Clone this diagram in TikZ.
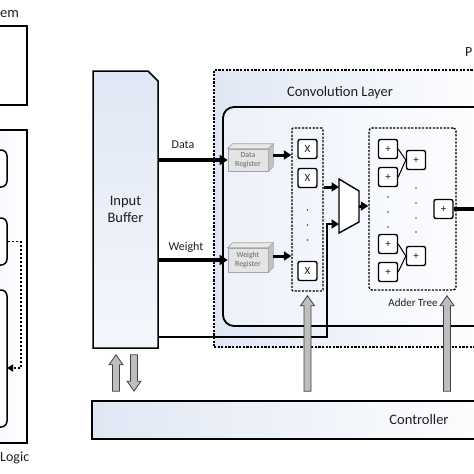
\documentclass[tikz,border=0pt]{standalone}
\usepackage{fontspec}
\setmainfont{Carlito}
\usetikzlibrary{shapes.misc,arrows.meta,calc}
\definecolor{lb}{RGB}{224,231,244}
\definecolor{lbb}{RGB}{236,241,250}
\definecolor{regfill}{RGB}{228,228,228}
\definecolor{regline}{RGB}{165,165,165}
\definecolor{garr}{RGB}{190,190,190}
\definecolor{txt}{RGB}{30,30,30}
\newcommand{\grayarrow}[3]{%
  \draw[garrowstyle] ($(#1)+(-3.5,0)$) -- ($(#2)+(-3.5,#3)$) -- ($(#2)+(-7,#3)$) -- (#2) -- ($(#2)+(7,#3)$) -- ($(#2)+(3.5,#3)$) -- ($(#1)+(3.5,0)$) -- cycle;}
\begin{document}
\begin{tikzpicture}[x=1pt,y=-1pt,text=txt,
  box/.style={draw,line width=1.5pt,inner sep=0pt},
  dbox/.style={draw,line width=1.4pt,inner sep=0pt,dash pattern=on 2.2pt off 1.4pt},
  opbox/.style={draw,line width=1.4pt,rounded corners=2pt,minimum size=19pt,inner sep=0pt,fill=white,font=\fontsize{11}{12}\selectfont},
  regbox/.style={draw=regline,fill=regfill,line width=0.7pt,inner sep=0pt,align=center,font=\fontsize{7.8}{8.6}\selectfont,text=black!60},
  lbl/.style={inner sep=0pt,font=\fontsize{12}{14}\selectfont},
  biglbl/.style={inner sep=0pt,font=\fontsize{14.5}{17}\selectfont},
  bigarr/.style={line width=3.4pt,-{Triangle[length=8pt,width=10pt]}},
  midarr/.style={line width=3pt,-{Triangle[length=7.5pt,width=9pt]}},
  garrowstyle/.style={draw=black!75,fill=garr,line width=0.8pt,line join=miter},
  tline/.style={line width=1pt},
  dotc/.style={fill=black!70}
]
\useasboundingbox (0,0) rectangle (474,474);
\clip (0,0) rectangle (474,474);

% ---------- left column (partly cut off) ----------
\node[inner sep=0pt,anchor=west,font=\fontsize{14.5}{17}\selectfont] (tsys) at (0,14) {em};
\node[box,fill=white,minimum width=67pt,minimum height=79pt] (lbox1) at (-6.5,65.5) {};
\node[box,left color=lbb,right color=white,minimum width=67pt,minimum height=313pt] (lbox2) at (-6.5,286.5) {};
\node[box,rounded corners=6pt,fill=white,minimum width=47pt,minimum height=37pt] (lr1) at (-16.5,168.5) {};
\node[box,rounded corners=6pt,fill=white,minimum width=47pt,minimum height=47pt] (lr2) at (-16.5,241.5) {};
\node[box,rounded corners=6pt,fill=white,minimum width=47pt,minimum height=137pt] (lr3) at (-16.5,358.5) {};
\coordinate (fb) at (7,368);
\draw[line width=1.6pt,dash pattern=on 2.5pt off 1.5pt,-{Triangle[length=6pt,width=7pt]}] (lr2.east) -- ++(13,0) |- (fb);
\node[inner sep=0pt,anchor=west,font=\fontsize{14}{16}\selectfont] (tlogic) at (0,458) {Logic};

% ---------- input buffer ----------
\node[box,chamfered rectangle,chamfered rectangle corners=north east,chamfered rectangle xsep=5pt,chamfered rectangle ysep=5pt,
      top color=lb,bottom color=lbb!60,minimum width=65pt,minimum height=277pt,align=center,font=\fontsize{14.5}{17}\selectfont] (ib) at (125.5,209.5) {Input\\Buffer};

% ---------- outer (P...) block ----------
\node[inner sep=0pt,anchor=east,font=\fontsize{14}{16}\selectfont] (tp) at (472.5,52) {P};
\node[dbox,left color=lb,right color=white,minimum width=286pt,minimum height=277pt] (outer) at (357,208.5) {};
\node[biglbl] (tconv) at (340,93) {Convolution Layer};
\node[draw,line width=1.8pt,rounded corners=11pt,left color=lbb,right color=white,inner sep=0pt,minimum width=297pt,minimum height=219pt] (conv) at (371.5,216.5) {};

% ---------- registers ----------
\node[regbox,minimum width=40pt,minimum height=22pt] (dreg) at (248,160) {Data\\Register};
\node[regbox,minimum width=40pt,minimum height=24pt] (wreg) at (248,260) {Weight\\Register};
\foreach \r in {dreg,wreg}{
  \draw[draw=regline,fill=regfill!80!white,line width=0.7pt] (\r.north west) -- ++(5,-5) -- ($(\r.north east)+(5,-5)$) -- (\r.north east) -- cycle;
  \draw[draw=regline,fill=regfill!85!black,line width=0.7pt] (\r.north east) -- ++(5,-5) -- ($(\r.south east)+(5,-5)$) -- (\r.south east) -- cycle;
}

% ---------- multipliers ----------
\node[dbox,rounded corners=1pt,minimum width=31pt,minimum height=163pt] (mult) at (307.5,209.5) {};
\node[opbox] (x1) at (307.5,149) {X};
\node[opbox] (x2) at (307.5,178) {X};
\node[opbox] (x3) at (307.5,271) {X};
\foreach \yy in {210,225,240} \fill[dotc] (307.5,\yy) circle (0.8);

% ---------- mux ----------
\draw[line width=1.4pt,fill=white] (339,179) coordinate (mtl) -- (359,191) -- (359,222) -- (339,233) -- cycle;
\coordinate (mi1) at (339,187);
\coordinate (mi2) at (339,224);
\coordinate (mo) at (359,206);

% ---------- adder tree ----------
\node[dbox,rounded corners=3pt,minimum width=87pt,minimum height=162pt] (adder) at (412.5,209) {};
\node[inner sep=0pt,font=\fontsize{11}{13}\selectfont] (tadd) at (413,303) {Adder Tree};
\node[opbox] (p1) at (388,149) {+};
\node[opbox] (p2) at (388,177) {+};
\node[opbox] (p3) at (388,244) {+};
\node[opbox] (p4) at (388,272) {+};
\node[opbox] (q1) at (416,160) {+};
\node[opbox] (q2) at (416,256) {+};
\node[opbox] (rr) at (443.5,209) {+};
\draw[tline] (p1.east) -- (q1.west);
\draw[tline] (p2.east) -- (q1.west);
\draw[tline] (p3.east) -- (q2.west);
\draw[tline] (p4.east) -- (q2.west);
\foreach \yy in {197,212,227} \fill[dotc] (388,\yy) circle (0.8);
\foreach \yy in {188,203,218,232} \fill[dotc] (416,\yy) circle (0.8);

% ---------- controller ----------
\node[box,line width=1.7pt,left color=lb,right color=white,minimum width=428pt,minimum height=38pt] (ctrl) at (306,420) {};
\node[biglbl] (tctrl) at (419,420) {Controller};

% ---------- connectors ----------
\node[lbl] (tdata) at (183,145) {Data};
\node[lbl] (tweight) at (186,247) {Weight};
\draw[bigarr] (ib.east |- dreg.west) -- (dreg.west);
\draw[bigarr] (ib.east |- wreg.west) -- (wreg.west);
\coordinate (dout) at ($(dreg.east)+(5,-5)$);
\coordinate (wout) at ($(wreg.east)+(5,-4)$);
\draw[midarr] (dout) -- (dout -| mult.west);
\draw[midarr] (wout) -- (wout -| mult.west);
\draw[midarr] (mult.east |- mi1) -- (mi1);
\coordinate (lowy) at (0,337);
\coordinate (bend) at (327,337);
\draw[line width=2.4pt,-{Triangle[length=7.5pt,width=9pt]}] (ib.east |- lowy) -- (bend) |- (mi2);
\draw[midarr] (mo) -- (mo -| adder.west);
\draw[line width=3.4pt] (rr.east) -- (rr.east -| conv.east);

% ---------- gray control arrows ----------
\coordinate (gx1) at (116,0);
\coordinate (gx2) at (134,0);
\coordinate (gx4) at (447,0);
\coordinate (g1a) at ($(gx1 |- ctrl.north)+(0,-9)$);
\coordinate (g1b) at ($(gx1 |- ib.south)+(0,6)$);
\grayarrow{g1a}{g1b}{10}
\coordinate (g2a) at ($(gx2 |- ib.south)+(0,6)$);
\coordinate (g2b) at ($(gx2 |- ctrl.north)+(0,-9)$);
\grayarrow{g2a}{g2b}{-10}
\coordinate (g3a) at ($(mult.south |- ctrl.north)+(0,-9)$);
\coordinate (g3b) at ($(mult.south)+(0,4)$);
\grayarrow{g3a}{g3b}{10}
\coordinate (g4a) at ($(gx4 |- ctrl.north)+(0,-9)$);
\coordinate (g4b) at ($(gx4 |- adder.south)+(0,5)$);
\grayarrow{g4a}{g4b}{10}
\end{tikzpicture}
\end{document}
